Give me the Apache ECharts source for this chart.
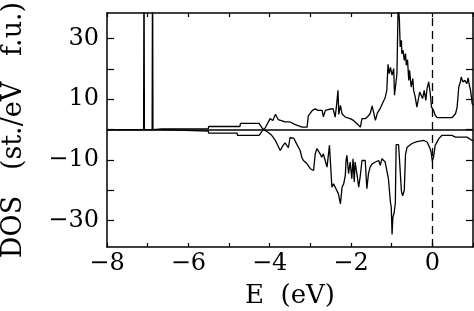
<!DOCTYPE html>
<html>
<head>
<meta charset="utf-8">
<script src="https://cdn.jsdelivr.net/npm/echarts@6/dist/echarts.min.js"></script>
<style>
  html, body { margin: 0; padding: 0; background: #fff; }
  #chart { width: 474px; height: 311px; }
</style>
</head>
<body>
<div id="chart"></div>
<script>
// spin up (positive) DOS
var energyUp = [-8, -7.10, -7.09, -7.08, -6.89, -6.88, -6.87, -6.65, -5.51, -5.50, -4.73, -4.72, -4.26, -4.16,
  -4.11, -3.99, -3.92, -3.86, -3.82, -3.79, -3.62, -3.50, -3.37, -3.20, -3.08, -3.05, -2.95, -2.88, -2.81,
  -2.71, -2.68, -2.63, -2.56, -2.44, -2.39, -2.36, -2.32, -2.30, -2.26, -2.22, -2.14, -2.02, -1.94, -1.85,
  -1.77, -1.75, -1.73, -1.65, -1.60, -1.53, -1.48, -1.45, -1.40, -1.35, -1.28, -1.21, -1.16, -1.12, -1.09,
  -1.06, -1.03, -0.99, -0.95, -0.93, -0.89, -0.87, -0.84, -0.81, -0.79, -0.76, -0.75, -0.72, -0.69, -0.66,
  -0.64, -0.61, -0.58, -0.56, -0.52, -0.48, -0.46, -0.42, -0.38, -0.34, -0.31, -0.27, -0.24, -0.20, -0.16,
  -0.13, -0.09, -0.05, -0.02, 0.03, 0.07, 0.12, 0.48, 0.52, 0.57, 0.61, 0.65, 0.69, 0.71, 0.75, 0.80, 0.85,
  0.88, 0.91, 0.94, 0.98, 1.01]
var dosUp = [0, 0, 60, 0, 0, 60, 0, 0.2, 0.2, 1.0, 1.0, 2.0, 2.0, 0,
  0.5, 3.6, 3.0, 5.0, 5.4, 3.3, 2.5, 2.5, 1.6, 0.8, 0.8, 4.5, 6.3, 6.8, 6.3,
  6.3, 4.2, 6.3, 6.6, 6.9, 4.1, 7.4, 12.9, 5.0, 8.0, 5.2, 4.1, 3.6, 3.0, 1.9,
  0.8, 0.6, 3.6, 3.6, 4.1, 5.2, 7.8, 6.0, 3.0, 5.5, 7.0, 9.1, 10.5, 12.9, 21.5,
  18.4, 20.5, 17.9, 20.1, 11.3, 11.3, 18.4, 42, 36.0, 27.2, 29.4, 25.0, 26.1, 22.8, 25.0,
  21.2, 23.0, 16.2, 19.5, 14.0, 16.8, 12.9, 10.7, 7.4, 8.0, 12.4, 12.6, 10.2, 12.9, 9.6,
  13.5, 15.7, 11.8, 7.4, 6.3, 4.7, 3.9, 3.9, 4.3, 5.2, 7.4, 14.0, 15.7, 17.3, 15.7, 16.2, 15.1,
  17.0, 14.6, 12.9, 8.5, 8.0]

// spin down (negative) DOS
var energyDown = [-8, -6.65, -6.64, -5.51, -5.50, -4.80, -4.79, -4.26, -4.16, -4.05, -3.95, -3.86, -3.74,
  -3.67, -3.62, -3.54, -3.50, -3.41, -3.33, -3.25, -3.21, -3.17, -3.13, -3.08, -3.00, -2.92, -2.88, -2.84,
  -2.76, -2.72, -2.68, -2.59, -2.53, -2.49, -2.47, -2.43, -2.39, -2.35, -2.31, -2.26, -2.22, -2.18, -2.14,
  -2.12, -2.10, -2.06, -2.02, -1.98, -1.95, -1.92, -1.90, -1.85, -1.81, -1.77, -1.73, -1.65, -1.61, -1.57,
  -1.53, -1.48, -1.40, -1.32, -1.28, -1.24, -1.16, -1.12, -1.08, -1.03, -1.01, -0.99, -0.97, -0.94, -0.91,
  -0.89, -0.87, -0.83, -0.79, -0.76, -0.73, -0.69, -0.66, -0.62, -0.58, -0.50, -0.38, -0.21, -0.13, -0.07,
  -0.03, 0.00, 0.03, 0.07, 0.16, 0.24, 0.48, 0.57, 0.73, 0.85, 0.98, 1.01]
var dosDown = [0, 0, -0.5, -0.5, -1.2, -1.2, -1.9, -1.9, 0, -0.8, -1.9, -3.6, -6.9,
  -5.2, -4.4, -6.0, -2.7, -2.8, -4.9, -6.9, -9.1, -10.2, -9.6, -11.3, -12.9, -13.5, -8.0, -6.3,
  -8.0, -9.1, -8.0, -12.4, -5.2, -4.6, -19.0, -17.9, -18.4, -20.0, -21.2, -24.5, -19.0, -17.9, -15.1,
  -10.0, -8.5, -14.5, -10.7, -16.2, -9.6, -17.3, -10.7, -15.0, -19.0, -15.1, -10.2, -10.2, -19.5, -14.5,
  -12.4, -11.3, -10.7, -10.2, -11.8, -9.6, -10.7, -11.3, -16.2, -24.0, -25.6, -34.6, -28.9, -27.5, -24.2,
  -5.0, -4.6, -5.0, -5.5, -20.3, -21.8, -20.0, -8.3, -5.8, -5.2, -4.6, -4.0, -3.6, -4.1, -5.8,
  -7.4, -10.5, -9.1, -5.2, -3.0, -1.9, -1.9, -2.5, -2.5, -2.5, -3.6, -3.6]

var yTicks = [-30, -20, -10, 0, 10, 20, 30]
var yLabels = [-30, -10, 10, 30]

var font = 'DejaVu Serif'
var minus = function (v) { return String(v).replace('-', '\u2212') }

function zip(xs, ys) {
  var out = []
  for (var i = 0; i < xs.length; i++) out.push([xs[i], ys[i]])
  return out
}

var chart = echarts.init(document.getElementById('chart'))
var axisLine = { show: true, onZero: false, lineStyle: { color: '#000', width: 1.5 } }
var tickX = { show: true, inside: true, length: 4, lineStyle: { color: '#000', width: 1.2 } }
var tickY = { show: true, inside: true, length: 7, customValues: yTicks, lineStyle: { color: '#000', width: 1.2 } }

var option = {
  backgroundColor: '#fff',
  animation: false,
  grid: { left: 107, right: 1, top: 13, bottom: 64, containLabel: false, outerBoundsMode: 'none' },
  xAxis: [{
    type: 'value',
    min: -8,
    max: 1,
    interval: 1,
    position: 'bottom',
    axisLine: axisLine,
    axisTick: tickX,
    splitLine: { show: false },
    axisLabel: {
      color: '#000',
      fontFamily: font,
      fontSize: 24,
      margin: 5,
      formatter: function (v) { return v % 2 === 0 ? minus(v) : '' }
    },
    name: 'E  (eV)',
    nameLocation: 'middle',
    nameGap: 36,
    nameTextStyle: { color: '#000', fontFamily: font, fontSize: 26 }
  }, {
    type: 'value',
    min: -8,
    max: 1,
    interval: 1,
    position: 'top',
    axisLine: axisLine,
    axisTick: tickX,
    splitLine: { show: false },
    axisLabel: { show: false }
  }],
  yAxis: [{
    type: 'value',
    min: -38.7,
    max: 38.4,
    position: 'left',
    axisLine: axisLine,
    axisTick: tickY,
    splitLine: { show: false },
    axisLabel: {
      customValues: yLabels,
      color: '#000',
      fontFamily: font,
      fontSize: 24,
      margin: 8,
      formatter: minus
    },
    name: 'DOS   (st./eV   f.u.)',
    nameLocation: 'middle',
    nameGap: 80,
    nameTextStyle: { color: '#000', fontFamily: font, fontSize: 27 }
  }, {
    type: 'value',
    min: -38.7,
    max: 38.4,
    position: 'right',
    axisLine: axisLine,
    axisTick: tickY,
    splitLine: { show: false },
    axisLabel: { show: false }
  }],
  series: [{
    name: 'up',
    type: 'line',
    data: zip(energyUp, dosUp),
    showSymbol: false,
    clip: true,
    lineStyle: { color: '#000', width: 1.3 },
    markLine: {
      symbol: 'none',
      silent: true,
      label: { show: false },
      data: [
        { yAxis: 0, lineStyle: { color: '#000', width: 1.6, type: 'solid' } },
        { xAxis: 0, lineStyle: { color: '#000', width: 1.3, type: [8, 5] } }
      ]
    }
  }, {
    name: 'down',
    type: 'line',
    data: zip(energyDown, dosDown),
    showSymbol: false,
    clip: true,
    lineStyle: { color: '#000', width: 1.3 }
  }]
}
chart.setOption(option)
</script>
</body>
</html>
